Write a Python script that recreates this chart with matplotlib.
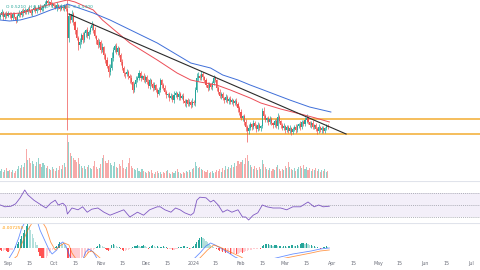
import numpy as np
import pandas as pd
import matplotlib
matplotlib.use("Agg")
import matplotlib.pyplot as plt
import matplotlib.dates as mdates

# ---------------- data ----------------
start_date = "2023-08-27"
closes = [
    1.65, 1.68, 1.63, 1.66, 1.64, 1.67, 1.65, 1.62, 1.66, 1.63,
    1.60, 1.64, 1.67, 1.65, 1.69, 1.67, 1.70, 1.68, 1.71, 1.69,
    1.67, 1.70, 1.72, 1.69, 1.71, 1.73, 1.70, 1.72, 1.74, 1.76,
    1.79, 1.77, 1.78, 1.75, 1.76, 1.74, 1.72, 1.75, 1.73, 1.71,
    1.73, 1.72, 1.74, 1.71, 1.42, 1.64, 1.60, 1.66, 1.58, 1.50,
    1.42, 1.35, 1.38, 1.45, 1.40, 1.47, 1.50, 1.44, 1.48, 1.52,
    1.55, 1.50, 1.44, 1.40, 1.35, 1.38, 1.30, 1.33, 1.25, 1.20,
    1.14, 1.08, 1.12, 1.22, 1.30, 1.34, 1.28, 1.32, 1.25, 1.18,
    1.12, 1.07, 1.06, 1.08, 1.04, 1.02, 0.98, 0.90, 0.96, 1.00,
    1.02, 1.07, 1.02, 1.04, 1.00, 1.03, 0.98, 0.94, 1.00, 0.96,
    0.92, 0.95, 0.90, 0.86, 0.90, 1.00, 0.95, 0.92, 0.88, 0.85,
    0.86, 0.82, 0.84, 0.80, 0.85, 0.87, 0.83, 0.86, 0.82, 0.84,
    0.79, 0.77, 0.80, 0.76, 0.78, 0.75, 0.78, 0.77, 0.90, 1.02,
    1.04, 1.02, 1.06, 1.03, 1.00, 0.95, 0.92, 0.96, 0.93, 0.97,
    1.02, 1.00, 0.92, 0.88, 0.84, 0.86, 0.82, 0.80, 0.83, 0.79,
    0.81, 0.78, 0.80, 0.77, 0.79, 0.76, 0.72, 0.68, 0.62, 0.64,
    0.58, 0.53, 0.49, 0.52, 0.56, 0.53, 0.57, 0.54, 0.51, 0.55,
    0.52, 0.54, 0.69, 0.64, 0.60, 0.62, 0.58, 0.61, 0.57, 0.55,
    0.59, 0.54, 0.63, 0.59, 0.55, 0.52, 0.54, 0.50, 0.53, 0.49,
    0.52, 0.48, 0.51, 0.53, 0.50, 0.54, 0.56, 0.53, 0.58, 0.56,
    0.60, 0.62, 0.58, 0.55, 0.57, 0.53, 0.55, 0.51, 0.49, 0.53,
    0.50, 0.52, 0.49, 0.52, 0.54, 0.53,
]
first_open = 1.63
# wick extensions beyond the body, in cents
upper_wick = [
    2, 3, 1, 2, 3, 2, 1, 3, 2, 2,   1, 2, 3, 1, 2, 3, 2, 1, 2, 3,
    2, 1, 3, 2, 1, 2, 3, 2, 1, 3,   2, 2, 1, 3, 2, 1, 2, 3, 1, 2,
    3, 1, 2, 2, 11, 3, 2, 4, 2, 1,  3, 2, 4, 2, 3, 2, 1, 3, 2, 2,
    4, 2, 3, 1, 2, 3, 2, 4, 1, 2,   3, 2, 4, 6, 3, 2, 3, 2, 1, 2,
    3, 2, 1, 3, 2, 2, 3, 1, 2, 4,   2, 3, 2, 1, 3, 2, 2, 3, 2, 1,
    2, 3, 1, 2, 3, 2, 1, 2, 3, 2,   1, 2, 3, 2, 4, 2, 1, 3, 2, 2,
    3, 2, 1, 2, 3, 2, 4, 2, 3, 5,   4, 2, 3, 2, 1, 2, 3, 2, 1, 2,
    3, 2, 1, 2, 3, 2, 2, 1, 3, 2,   2, 3, 2, 1, 2, 3, 2, 2, 3, 1,
    2, 3, 2, 4, 2, 1, 3, 2, 2, 3,   2, 1, 3, 4, 2, 1, 2, 3, 2, 1,
    2, 3, 4, 2, 1, 2, 3, 1, 2, 2,   3, 1, 2, 2, 3, 2, 1, 3, 2, 2,
    3, 4, 2, 1, 2, 3, 1, 2, 2, 3,   1, 2, 2, 1, 2, 2,
]
lower_wick = [
    2, 1, 3, 2, 2, 1, 3, 2, 2, 1,   3, 2, 1, 2, 2, 3, 1, 2, 2, 1,
    2, 3, 1, 2, 2, 1, 2, 1, 3, 2,   1, 2, 3, 1, 2, 2, 1, 3, 2, 2,
    1, 2, 3, 2, 92, 4, 3, 2, 3, 4,  2, 5, 3, 2, 3, 2, 4, 2, 3, 2,
    2, 3, 2, 4, 3, 2, 3, 2, 4, 3,   2, 5, 3, 2, 3, 2, 2, 3, 2, 3,
    2, 3, 4, 2, 3, 5, 2, 3, 2, 3,   2, 2, 3, 1, 2, 3, 2, 2, 3, 2,
    3, 2, 2, 3, 1, 2, 3, 2, 2, 3,   2, 3, 1, 2, 3, 2, 2, 3, 2, 1,
    2, 3, 4, 2, 2, 3, 2, 2, 3, 2,   3, 2, 2, 3, 2, 2, 3, 2, 2, 3,
    2, 2, 3, 2, 2, 3, 2, 3, 2, 2,   3, 2, 2, 3, 2, 2, 4, 3, 2, 3,
    3, 4, 11, 3, 2, 3, 2, 2, 3, 2,  2, 3, 2, 3, 2, 2, 3, 2, 2, 3,
    2, 2, 3, 2, 3, 2, 2, 3, 2, 2,   2, 3, 2, 2, 3, 2, 2, 3, 2, 2,
    2, 3, 2, 2, 3, 2, 2, 2, 3, 2,   2, 3, 2, 2, 2, 2,
]
volumes = [
    7, 9, 6, 8, 10, 7, 8,  6, 8, 5, 7, 9, 12, 10,  13, 11, 15, 29,
    18, 20, 15, 17, 14,  12, 16, 20, 14, 11,  15, 13, 10, 12, 9,
    8, 11, 9, 7, 10, 8, 12, 9,  13, 15, 11,  44,  36, 25, 22, 20,
    18, 16, 20, 14, 12,  10, 12, 9, 11, 13, 10, 9,  12, 17, 11, 9, 10,
    14, 20, 23, 17, 15,  18, 15, 13, 12, 16, 11, 10,  14, 12, 18, 10, 9, 11,
    15, 20, 12, 10, 9,  8, 10, 7, 6, 9, 7, 6,  5, 7, 6, 8, 5, 4, 6, 7, 5, 6,
    4, 6, 5, 7, 8, 5, 4, 6, 5, 7, 9, 6, 5, 4, 6,  5, 7, 6, 8, 6, 9, 10,
    16, 12, 10, 11,  9, 8, 7, 6, 8, 5, 6, 7, 5,  6, 8, 7, 9, 6, 10, 8, 12, 9, 11,
    10, 13, 11, 15, 12, 17, 14,  16, 18, 14, 20, 23, 17,  13, 11, 9, 12, 10, 8, 11, 9,
    18, 14, 11, 9,  8, 10, 7, 9, 8, 11, 13, 9,  7, 9, 8, 12, 10, 16, 11,
    9, 8, 10, 7, 9, 11,  12, 10, 13, 9, 11, 8, 10,  7, 9, 8, 10, 7, 9, 6,
    8, 7, 9, 6, 7,
]
# moving averages (read as polylines): date, value
ma_fast_dates = ["2023-08-27", "2023-09-02", "2023-09-09", "2023-09-19", "2023-09-29",
                 "2023-10-07", "2023-10-10", "2023-10-15", "2023-10-27", "2023-11-02",
                 "2023-11-20", "2023-12-08", "2023-12-21", "2023-12-30", "2024-01-05",
                 "2024-01-16", "2024-01-25", "2024-02-07", "2024-02-14", "2024-02-27",
                 "2024-03-11", "2024-03-21", "2024-03-30"]
ma_fast_vals = [1.66, 1.66, 1.67, 1.71, 1.76, 1.79, 1.80, 1.78, 1.70, 1.60,
                1.37, 1.20, 1.07, 1.00, 0.98, 0.95, 0.90, 0.82, 0.77, 0.71,
                0.66, 0.62, 0.58]
ma_slow_dates = ["2023-08-27", "2023-09-02", "2023-09-09", "2023-09-19", "2023-09-29",
                 "2023-10-09", "2023-10-10", "2023-10-27", "2023-11-07", "2023-12-08",
                 "2023-12-30", "2024-01-12", "2024-01-20", "2024-01-30", "2024-02-07",
                 "2024-02-14", "2024-03-04", "2024-03-17", "2024-03-31"]
ma_slow_vals = [1.60, 1.59, 1.60, 1.64, 1.70, 1.75, 1.76, 1.67, 1.60, 1.37,
                1.17, 1.12, 1.05, 1.00, 0.95, 0.91, 0.80, 0.73, 0.68]
trend_dates = ["2023-10-11", "2024-04-10"]
trend_vals = [1.66, 0.46]
levels = [0.61, 0.46]

# RSI (read as polyline): day offset from start_date, value
rsi_days = [0, 3, 7, 10, 13, 16, 18, 22, 25, 28,
            30, 33, 36, 38, 41, 43, 44, 47, 51, 54,
            57, 60, 64, 68, 72, 77, 81, 85, 90, 94,
            98, 103, 105, 108, 112, 115, 118, 121, 125, 127,
            129, 131, 135, 138, 140, 143, 146, 149, 152, 156,
            159, 161, 163, 166, 169, 172, 175, 179, 184, 188,
            192, 197, 202, 206, 209, 212, 216]
rsi_vals = [50, 47, 48, 52, 62, 75, 67, 58, 53, 48,
            45, 53, 58, 50, 53, 48, 35, 45, 42, 47,
            38, 43, 45, 38, 33, 38, 42, 30, 38, 33,
            42, 47, 47, 42, 38, 45, 42, 37, 33, 37,
            58, 63, 62, 55, 58, 50, 38, 42, 38, 42,
            30, 30, 25, 33, 37, 50, 47, 45, 45, 42,
            47, 47, 55, 47, 50, 47, 48]

# MACD histogram (per day, x1e-4)
macd_hist = [
    -2, -3, -3, -2, -3, -4, -3, -2, -2, -1,
    2, 4, 6, 9, 12, 15, 18, 22, 25,
    22, 18, 14, 10, 6, 3,
    -4, -8, -12, -14, -13, -11, -8, -5,
    -3, -2, -1, 1,
    2, 4, 6, 5, 4, 3, 2,
    -12, -20, -25, -24, -22, -20, -18, -15, -12, -10,
    -9, -8, -7, -6, -5, -4, -3, -2, -1,
    1, 2, 4, 3, 2, 1, -1,
    -2, -3, -2,
    3, 4, 3, 2, 1, 1,
    -1, -2, -3, -3, -2, -2, -1, -1, 1, 2,
    2, 3, 2, 1, 2, 3, 2, 1, -1, 1, 2, 3, 2, 1, 2, 1, 1,
    1, 2, 1, 1, -1, -1,
    -1, -2, -2, -1, -1, 1, 1,
    1, 2, 2, 1, 1, -1, -1, 1,
    2, 4, 6, 8, 10, 11, 10, 9,
    7, 6, 4, 3, 2, 1, 0,
    -1, -2, -3, -3, -4, -4, -5, -5, -5, -6, -6, -5, -5, -6, -6, -5, -4, -5, -4, -3, -3, -2, -2,
    -2, -1, -1, -1, -1, 0, -1,
    2, 3, 4, 4, 4, 3, 3, 2, 3, 3, 2, 2, 2, 1, 2, 2, 1, 2, 2, 3, 3, 2, 2, 3, 2,
    4, 5, 5, 4, 5, 4, 3, 3, 2, 2,
    1, 1, 0, -1, -1, 1, 1, 2, 1,
]
macd_days = [0, 5, 9, 12, 14, 17, 20, 24, 26, 29,
             32, 34, 37, 39, 41, 43, 46, 50, 54, 56,
             58, 61, 64, 69, 79, 98, 115, 121, 127, 131,
             135, 138, 141, 148, 154, 160, 167, 173, 181, 192,
             204, 210, 216]
macd_vals = [-15, -12, -2, 10, 20, 28, 32, 28, 18, 8,
             -2, -6, -2, 4, 6, 2, -10, -18, -12, -4,
             -1, -4, -12, -18, -20, -18, -15, -13, -11, -5,
             2, 5, 3, -3, -9, -13, -15, -13, -10, -6,
             -3, -1, 0]
signal_days = [0, 7, 11, 14, 18, 22, 26, 30, 33, 36,
               39, 42, 45, 47, 51, 55, 58, 60, 64, 69,
               79, 98, 115, 127, 131, 136, 140, 144, 151, 158,
               162, 169, 174, 184, 194, 204, 210, 216]
signal_vals = [-12, -13, -8, 4, 18, 28, 30, 20, 6, -2,
               2, 5, 3, -5, -14, -10, -4, -3, -8, -15,
               -20, -19, -17, -16, -10, -2, 3, 1, -4, -9,
               -13, -15, -14, -11, -8, -5, -3, -2]

legend_text = "O 0.5210  H 0.5390  L 0.5150  C 0.5300"
macd_label = "-0.007259"
tick_dates = ["2023-09-01", "2023-09-15", "2023-10-01", "2023-10-15", "2023-11-01",
              "2023-11-15", "2023-12-01", "2023-12-15", "2024-01-01", "2024-01-15",
              "2024-02-01", "2024-02-15", "2024-03-01", "2024-03-15", "2024-04-01",
              "2024-04-15", "2024-05-01", "2024-05-15", "2024-06-01", "2024-06-15",
              "2024-07-01"]
tick_labels = ["Sep", "15", "Oct", "15", "Nov", "15", "Dec", "15", "2024", "15",
               "Feb", "15", "Mar", "15", "Apr", "15", "May", "15", "Jun", "15", "Jul"]

# ---------------- derived ----------------
dates = pd.date_range(start_date, periods=len(closes), freq="D")
t0 = mdates.date2num(pd.Timestamp(start_date))
c = np.array(closes)
o = np.concatenate([[first_open], c[:-1]])
h = np.maximum(o, c) + np.array(upper_wick) * 0.01
l = np.minimum(o, c) - np.array(lower_wick) * 0.01
up = c >= o
vol = np.array(volumes, dtype=float)
hist = np.array(macd_hist, dtype=float)

# ---------------- figure ----------------
W, H = 480, 270
fig = plt.figure(figsize=(W / 100, H / 100), dpi=100)
fig.patch.set_facecolor("white")

def axes_px(top, bottom):
    return fig.add_axes([0, 1 - bottom / H, 1, (bottom - top) / H])

x0 = mdates.date2num(pd.Timestamp("2023-09-01")) - 8 / 1.523
x1 = x0 + W / 1.523

ax = axes_px(0, 180)
axv = ax.twinx()
axr = axes_px(181, 223)
axm = axes_px(223, 258)

for a in (ax, axv, axr, axm):
    a.set_xlim(x0, x1)
    a.set_facecolor("none")
    for s in a.spines.values():
        s.set_visible(False)
    a.set_yticks([])
    a.tick_params(length=0)
    a.set_xticks([])

UPC, DNC = "#26a69a", "#ef5350"
xd = mdates.date2num(dates)

# volume
axv.set_ylim(-2, 178)
axv.bar(xd, vol, width=0.7, color=np.where(up, "#93d3cc", "#f7a9a8"), linewidth=0, zorder=1)
axv.set_zorder(0)
ax.set_zorder(1)

# candles
ax.set_ylim(0.0, 1.80)
colors = np.where(up, UPC, DNC)
ax.vlines(xd, l, h, colors=colors, linewidth=0.5, zorder=3)
body_lo = np.minimum(o, c)
body_h = np.maximum(np.abs(c - o), 0.004)
ax.bar(xd, body_h, bottom=body_lo, width=0.7, color=colors, linewidth=0, zorder=4)

# lines
ax.plot(mdates.date2num(pd.to_datetime(ma_fast_dates)), ma_fast_vals, color="#ec4d57", lw=0.7, zorder=5)
ax.plot(mdates.date2num(pd.to_datetime(ma_slow_dates)), ma_slow_vals, color="#3f6fd9", lw=0.7, zorder=5)
ax.plot(mdates.date2num(pd.to_datetime(trend_dates)), trend_vals, color="#2b2b2b", lw=0.8, zorder=6)
for lv in levels:
    ax.axhline(lv, color="#f5b94f", lw=1.3, zorder=2)
ax.text(0.012, 0.975, legend_text, transform=ax.transAxes, fontsize=3.2,
        color="#26a69a", va="top", ha="left", zorder=7)

# RSI
axr.set_ylim(20, 90)
axr.axhspan(30, 70, color="#7e57c2", alpha=0.09, lw=0)
for lv in (70, 50, 30):
    axr.axhline(lv, color="#9598a1", lw=0.5, ls=(0, (1.5, 1.5)))
axr.plot(t0 + np.array(rsi_days), rsi_vals, color="#7e57c2", lw=0.6)
axr.axhline(90, color="#e0e3eb", lw=0.8)

# MACD
axm.set_ylim(-10, 25)
hcol = []
for i, v in enumerate(hist):
    prev = hist[i - 1] if i > 0 else 0
    if v >= 0:
        hcol.append("#26a69a" if v >= prev else "#b2dfdb")
    else:
        hcol.append("#ffcdd2" if v >= prev else "#ff5252")
axm.bar(xd, hist, width=0.75, color=hcol, linewidth=0)
axm.plot(t0 + np.array(macd_days), macd_vals, color="#2962ff", lw=0.6, alpha=0.7)
axm.plot(t0 + np.array(signal_days), signal_vals, color="#ff6d00", lw=0.6, alpha=0.7)
axm.axhline(25, color="#e0e3eb", lw=0.8)
axm.text(0.004, 0.86, macd_label, transform=axm.transAxes, fontsize=3.2,
         color="#ff9800", va="center", ha="left")

axm.set_xticks(mdates.date2num(pd.to_datetime(tick_dates)))
axm.set_xticklabels(tick_labels, fontsize=3.4, color="#6a6d78")
axm.tick_params(axis="x", length=0, pad=2)

fig.savefig("out.png", dpi=100, facecolor="white")
